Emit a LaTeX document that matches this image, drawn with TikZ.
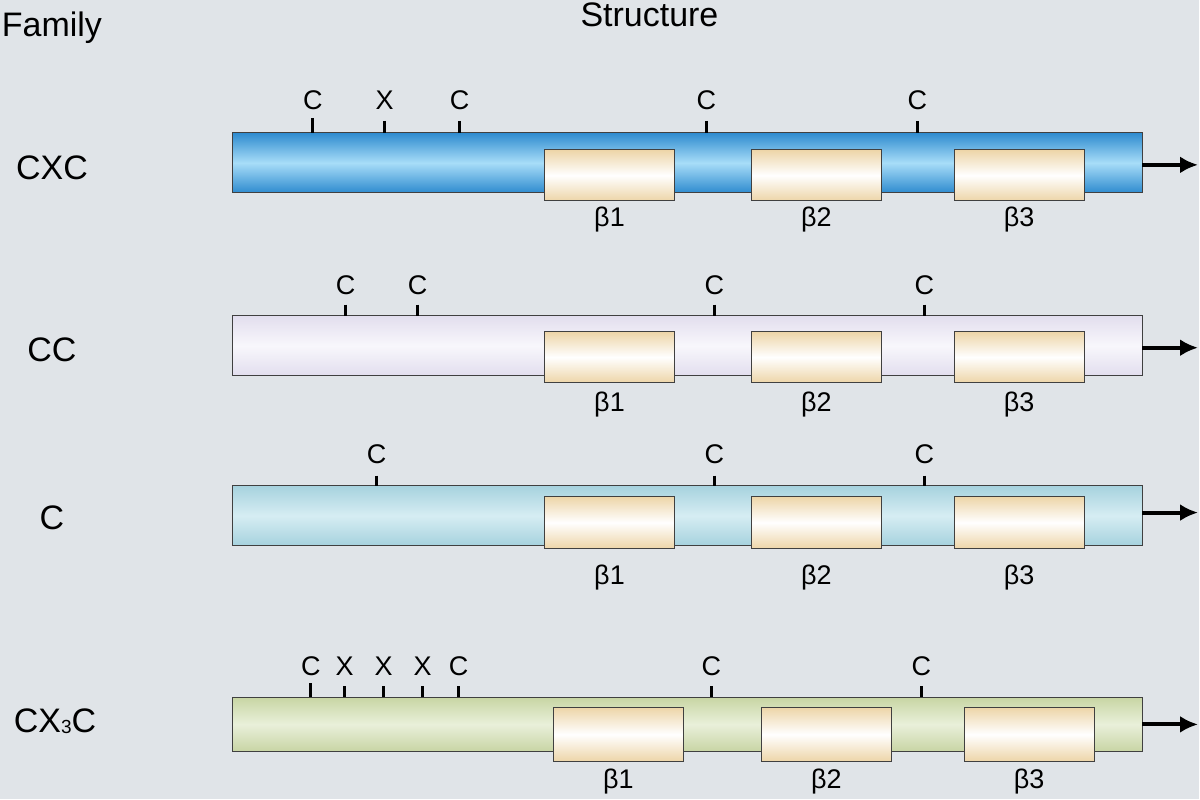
\documentclass[tikz,border=0pt]{standalone}
\usepackage{fontspec}
\setmainfont{Liberation Sans}
\usetikzlibrary{arrows.meta}
\begin{document}
\begin{tikzpicture}[x=1pt,y=-1pt,
 bar/.style={draw=black!75,line width=1pt},
 box/.style={draw=black!75,line width=1pt,top color=boxc,bottom color=boxc,middle color=white},
 tk/.style={line width=3pt},
 lab/.style={font=\fontsize{27}{29}\selectfont,inner sep=0},
 big/.style={font=\fontsize{34}{36}\selectfont,inner sep=0},
 arr/.style={line width=4pt,-{Latex[length=18pt,width=17pt]}}]
\definecolor{bg}{HTML}{E0E4E8}
\definecolor{boxc}{HTML}{EDD5A8}
\fill[bg] (0,0) rectangle (1200,800);
\node[big] (fam) at (52,28) {Family};
\node[big] (str) at (650,15) {Structure};
% Row 1
\shade[bar,top color={rgb,255:red,46;green,139;blue,207},bottom color={rgb,255:red,46;green,139;blue,207},middle color={rgb,255:red,168;green,221;blue,248}] (233,133) rectangle (1143,193);
\node[big] (r1) at (52,168) {CXC};
\foreach \x/\l in {313/C,385/X,460/C,707/C,918/C}{\draw[tk] (\x,121) -- (\x,133); \node[lab] at (\x,100) {\l};}
\draw[tk] (313,118) -- (313,133);
\foreach \x/\n in {545/1,752/2,955/3}{\shade[box] (\x,150) rectangle ++(130,51); \node[lab] at (\x+65,220) {β\n};}
\coordinate (a1) at (1143,165); \coordinate (b1) at (1199,165); \draw[arr] (a1) -- (b1);
% Row 2
\shade[bar,top color={rgb,255:red,226;green,222;blue,238},bottom color={rgb,255:red,226;green,222;blue,238},middle color={rgb,255:red,248;green,247;blue,252}] (233,316) rectangle (1143,376);
\node[big] (r2) at (52,350) {CC};
\foreach \x/\l in {346/C,418/C,715/C,925/C}{\draw[tk] (\x,305) -- (\x,316); \node[lab] at (\x,285) {\l};}
\foreach \x/\n in {545/1,752/2,955/3}{\shade[box] (\x,332) rectangle ++(130,51); \node[lab] at (\x+65,405) {β\n};}
\coordinate (a2) at (1143,348); \coordinate (b2) at (1199,348); \draw[arr] (a2) -- (b2);
% Row 3
\shade[bar,top color={rgb,255:red,166;green,210;blue,222},bottom color={rgb,255:red,166;green,210;blue,222},middle color={rgb,255:red,214;green,237;blue,243}] (233,486) rectangle (1143,546);
\node[big] (r3) at (52,518) {C};
\foreach \x/\l in {377/C,715/C,925/C}{\draw[tk] (\x,476) -- (\x,486); \node[lab] at (\x,455) {\l};}
\foreach \x/\n in {545/1,752/2,955/3}{\shade[box] (\x,497) rectangle ++(130,52); \node[lab] at (\x+65,578) {β\n};}
\coordinate (a3) at (1143,513); \coordinate (b3) at (1199,513); \draw[arr] (a3) -- (b3);
% Row 4
\shade[bar,top color={rgb,255:red,200;green,213;blue,164},bottom color={rgb,255:red,200;green,213;blue,164},middle color={rgb,255:red,233;green,240;blue,218}] (233,698) rectangle (1143,752);
\node[big] (r4) at (55,722) {CX\raisebox{-0.02em}{\fontsize{19}{19}\selectfont 3}C};
\foreach \x/\l in {311/C,345/X,384/X,423/X,459/C,712/C,922/C}{\draw[tk] (\x,687) -- (\x,698); \node[lab] at (\x,667) {\l};}
\draw[tk] (311,684) -- (311,698);
\foreach \x/\n in {554/1,762/2,965/3}{\shade[box] (\x,708) rectangle ++(130,54); \node[lab] at (\x+65,782) {β\n};}
\coordinate (a4) at (1143,725); \coordinate (b4) at (1199,725); \draw[arr] (a4) -- (b4);
\end{tikzpicture}
\end{document}
